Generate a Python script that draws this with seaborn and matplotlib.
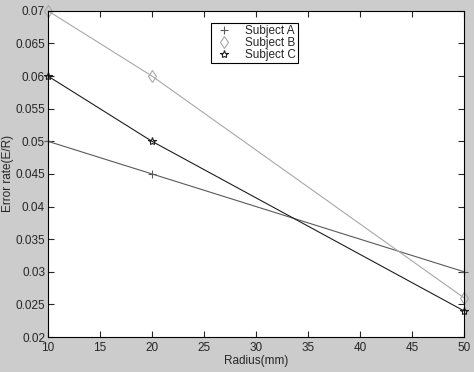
import numpy as np
import pandas as pd
import matplotlib
matplotlib.use('Agg')
import matplotlib.pyplot as plt
import seaborn as sns
from matplotlib.lines import Line2D

# data
radius = [10, 20, 50]
subject_a = [0.050, 0.045, 0.030]
subject_b = [0.070, 0.060, 0.026]
subject_c = [0.060, 0.050, 0.024]
names = ['Subject A', 'Subject B', 'Subject C']

df = pd.DataFrame({
    'Radius': radius * 3,
    'Error': subject_a + subject_b + subject_c,
    'Subject': [n for n in names for _ in radius],
})

sns.set_style('ticks')
plt.rcParams['font.family'] = ['Liberation Sans', 'DejaVu Sans']

colors = {'Subject A': '#5a5a5a', 'Subject B': '#a8a8a8', 'Subject C': '#1e1e1e'}
markers = {'Subject A': '+', 'Subject B': 'd', 'Subject C': '*'}

fig = plt.figure(figsize=(4.74, 3.72), dpi=100, facecolor='#cccccc')
ax = fig.add_axes([0.101, 0.094, 0.878, 0.877])
ax.set_facecolor('white')

for n in names:
    sub = df[df['Subject'] == n]
    sns.lineplot(data=sub, x='Radius', y='Error', ax=ax, color=colors[n],
                 linewidth=0.8, marker=markers[n], markersize=6,
                 markerfacecolor='none', markeredgecolor=colors[n],
                 markeredgewidth=0.8, clip_on=False)

ax.set_xlim(10, 50)
ax.set_ylim(0.02, 0.07)
ax.set_xticks(np.arange(10, 51, 5))
ax.set_yticks(np.arange(0.02, 0.0701, 0.005))
ax.set_yticklabels(['0.02', '0.025', '0.03', '0.035', '0.04', '0.045',
                    '0.05', '0.055', '0.06', '0.065', '0.07'])
ax.tick_params(direction='in', length=4, width=0.8, labelsize=8.5,
               top=True, right=True, pad=2)
ax.tick_params(axis='x', pad=3.5)
for s in ax.spines.values():
    s.set_linewidth(0.8)
    s.set_color('black')

ax.set_xlabel('Radius(mm)', fontsize=8.5, labelpad=1)
ax.set_ylabel('Error rate(E/R)', fontsize=8.5, labelpad=1)

handles = [Line2D([], [], linestyle='none', marker=markers[n], color=colors[n],
                  markerfacecolor='none', markersize=6, markeredgewidth=0.8)
           for n in names]
leg = ax.legend(handles, names, loc='upper left', bbox_to_anchor=(0.391, 0.962),
                fontsize=8.5, frameon=True, fancybox=False, framealpha=1,
                edgecolor='black', borderpad=0.15, labelspacing=0.0,
                handletextpad=0.8, handlelength=2.0, borderaxespad=0)
leg.get_frame().set_linewidth(0.8)

plt.savefig('out.png', dpi=100, facecolor=fig.get_facecolor())
